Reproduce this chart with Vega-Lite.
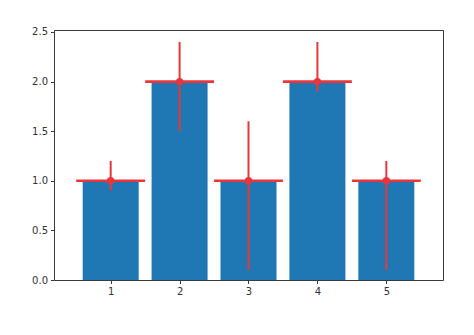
{
  "$schema": "https://vega.github.io/schema/vega-lite/v6.json",
  "autosize": "none",
  "padding": {"left": 54, "top": 30, "right": 31, "bottom": 55},
  "width": 389,
  "height": 250,
  "background": "white",
  "config": {
    "view": {"stroke": "#3a3a3a", "strokeWidth": 1},
    "axis": {
      "grid": false,
      "domain": false,
      "tickColor": "#3a3a3a",
      "tickSize": 3.5,
      "labelFont": "DejaVu Sans",
      "labelFontSize": 10,
      "labelColor": "#333333",
      "labelPadding": 3,
      "title": null
    }
  },
  "data": {
    "values": [
      {"x": 1, "y": 1, "lo": 0.9, "hi": 1.2, "xlo": 0.5, "xhi": 1.5},
      {"x": 2, "y": 2, "lo": 1.5, "hi": 2.4, "xlo": 1.5, "xhi": 2.5},
      {"x": 3, "y": 1, "lo": 0.1, "hi": 1.6, "xlo": 2.5, "xhi": 3.5},
      {"x": 4, "y": 2, "lo": 1.9, "hi": 2.4, "xlo": 3.5, "xhi": 4.5},
      {"x": 5, "y": 1, "lo": 0.1, "hi": 1.2, "xlo": 4.5, "xhi": 5.5}
    ]
  },
  "layer": [
    {
      "mark": {"type": "bar", "size": 56, "color": "#1f77b4"},
      "encoding": {
        "x": {
          "field": "x", "type": "quantitative", "title": null,
          "scale": {"domain": [0.25, 5.75], "nice": false, "zero": false},
          "axis": {"values": [1, 2, 3, 4, 5], "format": "d", "title": null}
        },
        "y": {
          "field": "y", "type": "quantitative", "title": null,
          "scale": {"domain": [0, 2.52], "nice": false},
          "axis": {"values": [0, 0.5, 1, 1.5, 2, 2.5], "format": ".1f", "title": null}
        }
      }
    },
    {
      "mark": {"type": "rule", "color": "#e8363c", "strokeWidth": 2},
      "encoding": {
        "x": {"field": "x", "type": "quantitative"},
        "y": {"field": "lo", "type": "quantitative"},
        "y2": {"field": "hi"}
      }
    },
    {
      "mark": {"type": "rule", "color": "#e8363c", "strokeWidth": 2.6},
      "encoding": {
        "x": {"field": "xlo", "type": "quantitative"},
        "x2": {"field": "xhi"},
        "y": {"field": "y", "type": "quantitative"}
      }
    },
    {
      "mark": {"type": "circle", "color": "#e8363c", "opacity": 1, "size": 55},
      "encoding": {
        "x": {"field": "x", "type": "quantitative"},
        "y": {"field": "y", "type": "quantitative"}
      }
    }
  ]
}
